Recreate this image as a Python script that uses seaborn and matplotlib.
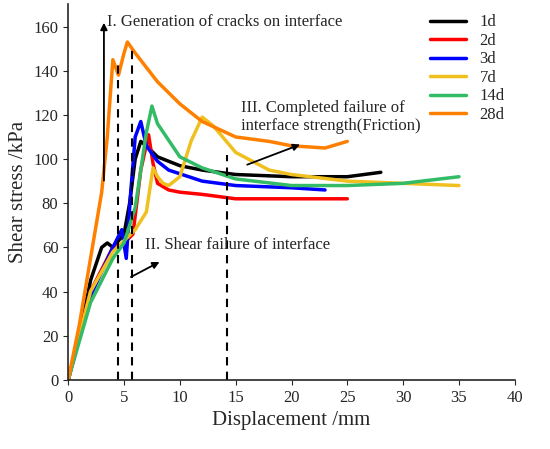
import matplotlib
matplotlib.use("Agg")
import matplotlib.pyplot as plt
import seaborn as sns
import pandas as pd

sns.set_style("ticks")
plt.rcParams['font.family'] = ['Liberation Serif', 'DejaVu Serif']

labels = ["1d", "2d", "3d", "7d", "14d", "28d"]
colors = ["#000000", "#ff0000", "#0000ff", "#f0c020", "#33bb66", "#ff8000"]
x_1d = [0, 1, 2, 3, 3.5, 4, 5, 5.5, 6, 6.5, 7, 8, 10, 12, 15, 20, 25, 28]
y_1d = [0, 20, 45, 60, 62, 60, 66, 80, 100, 108, 106, 101, 97, 95, 93, 92, 92, 94]
x_2d = [0, 2, 4, 5, 5.8, 6.5, 7.2, 7.6, 8, 9, 10, 12, 15, 20, 25]
y_2d = [0, 40, 60, 62, 66, 95, 111, 98, 89, 86, 85, 84, 82, 82, 82]
x_3d = [0, 2, 4, 4.8, 5.2, 5.6, 6, 6.5, 7, 8, 9, 12, 15, 20, 23]
y_3d = [0, 38, 60, 68, 55, 85, 110, 117, 106, 99, 95, 90, 88, 87, 86]
x_7d = [0, 2, 4, 6, 7, 7.6, 8, 8.5, 9, 10, 11, 12, 13, 15, 18, 20, 25, 30, 35]
y_7d = [0, 40, 58, 68, 76, 96, 92, 89, 88, 92, 108, 119, 115, 103, 95, 93, 90, 89, 88]
x_14d = [0, 2, 4, 5, 6, 7, 7.5, 8, 10, 12, 15, 20, 25, 30, 35]
y_14d = [0, 35, 55, 62, 78, 112, 124, 116, 101, 96, 91, 88, 88, 89, 92]
x_28d = [0, 1, 2, 3, 3.5, 4, 4.5, 5, 5.3, 6, 8, 10, 12, 15, 18, 20, 23, 25]
y_28d = [0, 25, 55, 85, 110, 145, 138, 148, 153, 148, 135, 125, 117, 110, 108, 106, 105, 108]
xs = [x_1d, x_2d, x_3d, x_7d, x_14d, x_28d]
ys = [y_1d, y_2d, y_3d, y_7d, y_14d, y_28d]

dash_x = [4.5, 5.7, 14.2]
dash_top = [145, 150, 102]

fig, ax = plt.subplots(figsize=(5.5, 4.49), dpi=100)
fig.subplots_adjust(left=0.124, right=0.936, top=0.99, bottom=0.154)
for lab, c, x, y in zip(labels, colors, xs, ys):
    df = pd.DataFrame({"x": x, "y": y})
    sns.lineplot(data=df, x="x", y="y", ax=ax, color=c, lw=2.5, label=lab, sort=False)
for dx, dt in zip(dash_x, dash_top):
    ax.plot([dx, dx], [0, dt], ls=(0, (4, 3)), color="k", lw=1.5)

ap = dict(arrowstyle="-|>", color="k", lw=1.3)
ax.annotate("", xy=(3.2, 163), xytext=(3.2, 89), arrowprops=ap)
ax.annotate("", xy=(8.4, 54), xytext=(5.4, 46), arrowprops=ap)
ax.annotate("", xy=(21, 107), xytext=(15.8, 97), arrowprops=ap)
ax.text(3.5, 162, "I. Generation of cracks on interface", fontsize=12, va="center")
ax.text(6.9, 61, "II. Shear failure of interface", fontsize=12, va="center")
ax.text(15.5, 119, "III. Completed failure of\ninterface strength(Friction)", fontsize=12,
        va="center", linespacing=1.2)

ax.set_xlim(0, 40)
ax.set_ylim(0, 170)
ax.set_xticks(range(0, 41, 5))
ax.set_yticks(range(0, 161, 20))
ax.set_xlabel("Displacement /mm", fontsize=15)
ax.set_ylabel("Shear stress /kPa", fontsize=15)
ax.tick_params(labelsize=12, direction="out")
sns.despine(ax=ax)
for s in ax.spines.values():
    s.set_linewidth(1.2)
ax.legend(loc="upper right", frameon=False, fontsize=12, handlelength=2.2,
          labelspacing=0.15, borderaxespad=0.2)
fig.savefig("out.png", dpi=100)
